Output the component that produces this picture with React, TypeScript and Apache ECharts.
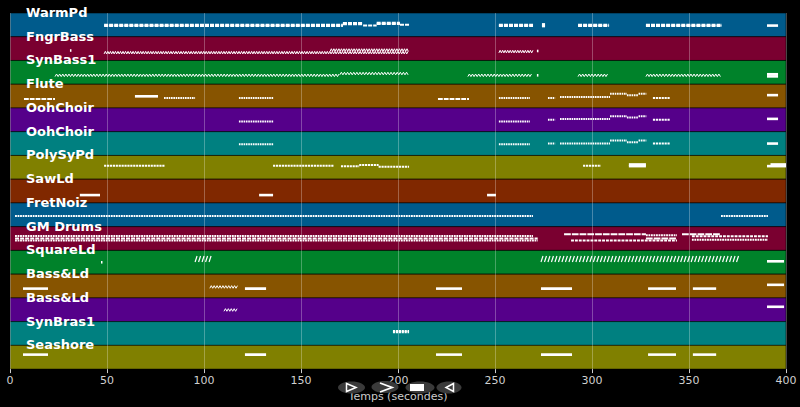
import React, { useEffect, useRef } from "react";
import * as echarts from "echarts";

// Track names, top to bottom
const TRACKS = ["WarmPd", "FngrBass", "SynBass1", "Flute", "OohChoir", "OohChoir", "PolySyPd", "SawLd", "FretNoiz", "GM Drums", "SquareLd", "Bass&Ld", "Bass&Ld", "SynBras1", "Seashore"];
const BAND_COLORS = ["#005b8c", "#7a0030", "#00822a", "#875400", "#55008a", "#008080", "#808000", "#802800"];
const X_MIN = 0;
const X_MAX = 400;
const X_STEP = 50;

// Note runs: [start s, end s, pitch within band (0..1), repeat step s (0 = held), contour (0 flat, 1 zigzag, 2 rising)]
const WARMPD = [[48.5, 171.6, 0.45, 2.6, 0], [48.5, 171.6, 0.5, 2.6, 0], [171.6, 182, 0.53, 2.6, 0], [171.6, 182, 0.58, 2.6, 0], [182, 189, 0.47, 2.6, 0], [189, 201, 0.54, 2.6, 0], [189, 201, 0.59, 2.6, 0], [201, 205.7, 0.5, 2.6, 0], [252, 269.6, 0.45, 2.6, 0], [252, 269.6, 0.5, 2.6, 0], [274.2, 275.8, 0.45, 0, 0], [274.2, 275.8, 0.52, 0, 0], [292.8, 308.8, 0.45, 2.6, 0], [292.8, 308.8, 0.5, 2.6, 0], [327.8, 367, 0.45, 2.6, 0], [327.8, 367, 0.5, 2.6, 0], [390.2, 395.9, 0.47, 0, 0]];
const FNGRBASS = [[30.9, 31.6, 0.42, 0, 0], [48.5, 205.7, 0.33, 1.3, 1], [165, 205.7, 0.44, 1.3, 1], [252, 270, 0.375, 1.3, 1], [271.6, 272.4, 0.4, 0, 0]];
const SYNBASS1 = [[23.2, 170, 0.375, 1.6, 1], [170, 205.7, 0.45, 1.6, 1], [236, 269.6, 0.375, 1.6, 1], [271.6, 272.3, 0.375, 0, 0], [292.8, 308.8, 0.375, 1.6, 1], [327.8, 367, 0.375, 1.6, 1], [390.2, 395.9, 0.33, 0, 0], [390.2, 395.9, 0.42, 0, 0]];
const FLUTE = [[7.2, 23.2, 0.375, 3, 0], [64.4, 76.3, 0.49, 0, 0], [79.4, 95.4, 0.42, 1.2, 0], [118, 136, 0.42, 1.2, 0], [220.6, 236.6, 0.375, 3, 0], [252, 268, 0.42, 1.2, 0], [277.3, 281, 0.42, 1.2, 0], [283.5, 309.3, 0.46, 1.2, 0], [309.3, 318, 0.6, 1.2, 0], [318, 324, 0.54, 1.2, 0], [324, 328, 0.6, 1.2, 0], [331.4, 340.2, 0.42, 1.5, 0], [390.2, 395.9, 0.54, 0, 0]];
const OOHCHOIR_A = [[118, 136, 0.43, 1.2, 0], [252, 268, 0.43, 1.2, 0], [277.3, 281, 0.5, 1.2, 0], [283.5, 309.3, 0.54, 1.2, 0], [309.3, 318, 0.65, 1.2, 0], [318, 324, 0.6, 1.2, 0], [324, 328, 0.65, 1.2, 0], [331.4, 340.2, 0.5, 1.5, 0], [390.2, 395.9, 0.54, 0, 0]];
const OOHCHOIR_B = [[118, 136, 0.47, 1.2, 0], [252, 268, 0.47, 1.2, 0], [277.3, 281, 0.5, 1.2, 0], [283.5, 309.3, 0.5, 1.2, 0], [309.3, 318, 0.625, 1.2, 0], [318, 324, 0.56, 1.2, 0], [324, 328, 0.625, 1.2, 0], [331.4, 340.2, 0.5, 1.5, 0], [390.2, 395.9, 0.5, 0, 0]];
const POLYSYPD = [[48.5, 79.9, 0.57, 1.5, 0], [135.6, 167, 0.57, 1.5, 0], [170.6, 180, 0.54, 1.5, 0], [180, 190, 0.6, 1.5, 0], [190, 205.7, 0.52, 1.5, 0], [295.4, 304.6, 0.57, 1.5, 0], [319, 327.8, 0.55, 0, 0], [319, 327.8, 0.62, 0, 0], [390.2, 400, 0.55, 0, 0], [392, 400, 0.62, 0, 0]];
const SAWLD = [[36, 46.4, 0.33, 0, 0], [128.4, 135.6, 0.33, 0, 0], [245.9, 250.5, 0.33, 0, 0]];
const FRETNOIZ = [[2.6, 269.6, 0.45, 1.3, 0], [366.5, 390.7, 0.45, 1.3, 0]];
const GMDRUMS = [[2.6, 269.6, 0.61, 1.3, 0], [2.6, 272, 0.42, 1.3, 0], [2.6, 272, 0.5, 2.6, 0], [285.6, 327.8, 0.68, 4, 0], [327.8, 343.8, 0.64, 1.3, 0], [327.8, 343.8, 0.5, 4, 0], [289.2, 343.8, 0.42, 2, 0], [346.4, 366, 0.68, 4, 0], [351.5, 390.7, 0.6, 2, 0], [351.5, 390.7, 0.45, 1.3, 0]];
const SQUARELD = [[46.9, 47.5, 0.5, 0, 0], [95.4, 103, 0.64, 1.8, 2], [273.7, 374.7, 0.64, 1.8, 2], [390.2, 399, 0.54, 0, 0]];
const BASSLD_A = [[6.7, 19.6, 0.39, 0, 0], [103, 118, 0.46, 1.5, 1], [121.1, 132, 0.39, 0, 0], [219.6, 233, 0.39, 0, 0], [273.7, 289.7, 0.39, 0, 0], [328.9, 343.3, 0.39, 0, 0], [352, 364, 0.39, 0, 0], [390.2, 399, 0.55, 0, 0]];
const BASSLD_B = [[110.3, 117.5, 0.49, 1.5, 1], [390.2, 399, 0.625, 0, 0]];
const SYNBRAS1 = [[197.4, 205.7, 0.55, 1.5, 0], [197.4, 205.7, 0.6, 1.5, 0]];
const SEASHORE = [[6.7, 19.6, 0.61, 0, 0], [121.1, 132, 0.61, 0, 0], [219.6, 233, 0.61, 0, 0], [273.7, 289.7, 0.61, 0, 0], [328.9, 343.3, 0.61, 0, 0], [352, 364, 0.61, 0, 0]];

const NOTES = [WARMPD, FNGRBASS, SYNBASS1, FLUTE, OOHCHOIR_A, OOHCHOIR_B, POLYSYPD, SAWLD, FRETNOIZ, GMDRUMS, SQUARELD, BASSLD_A, BASSLD_B, SYNBRAS1, SEASHORE];

export default function App() {
  const ref = useRef<HTMLDivElement>(null);
  useEffect(() => {
    if (!ref.current) return;
    const chart = echarts.init(ref.current, null, { renderer: "svg" });
    const n = TRACKS.length;
    const bandData = TRACKS.map((_, i) => [i]);
    const noteData: number[][] = [];
    NOTES.forEach((runs, i) => {
      runs.forEach((r) => {
        noteData.push([r[0], r[1], n - 1 - i + r[2], r[3], r[4]]);
      });
    });
    const font = "DejaVu Sans";
    chart.setOption({
      animation: false,
      backgroundColor: "#000000",
      grid: { left: 10, right: 14, top: 13, bottom: 34 },
      xAxis: {
        type: "value",
        min: X_MIN,
        max: X_MAX,
        interval: X_STEP,
        z: 2,
        name: "Temps (secondes)",
        nameLocation: "middle",
        nameGap: 17,
        nameTextStyle: { color: "#cccccc", fontSize: 11, fontFamily: font },
        axisLine: { show: false },
        axisTick: { show: true, length: 4, lineStyle: { color: "#cccccc" } },
        axisLabel: { color: "#d0d0d0", fontSize: 11, fontFamily: font, margin: 6 },
        splitLine: { show: true, lineStyle: { color: "rgba(255,255,255,0.28)", width: 1 } },
      },
      yAxis: { type: "value", min: 0, max: n, show: false, splitLine: { show: false } },
      series: [
        {
          type: "custom",
          z: 1,
          silent: true,
          data: bandData,
          encode: { x: -1, y: 0 },
          renderItem: (params: any, api: any) => {
            const i = api.value(0);
            const p1 = api.coord([X_MIN, n - i]);
            const p2 = api.coord([X_MAX, n - 1 - i]);
            return {
              type: "rect",
              shape: { x: p1[0], y: p1[1], width: p2[0] - p1[0], height: p2[1] - p1[1] },
              style: { fill: BAND_COLORS[i % BAND_COLORS.length], stroke: "rgba(0,0,0,0.55)", lineWidth: 1 },
            };
          },
        },
        {
          type: "custom",
          z: 3,
          silent: true,
          data: noteData,
          encode: { x: [0, 1], y: 2 },
          renderItem: (params: any, api: any) => {
            const s = api.value(0), e = api.value(1), y = api.value(2), step = api.value(3), contour = api.value(4);
            const p1 = api.coord([s, y]);
            const p2 = api.coord([e, y]);
            const x1 = p1[0], x2 = p2[0], yy = p1[1];
            if (!step) {
              return { type: "rect", shape: { x: x1, y: yy - 1.3, width: Math.max(x2 - x1, 1.5), height: 2.6 }, style: { fill: "#ffffff" } };
            }
            const sp = api.size([step, 0])[0];
            if (contour === 1) {
              const pts: number[][] = [];
              let k = 0;
              for (let x = x1; x <= x2; x += sp / 2) {
                pts.push([x, yy + (k % 2 === 0 ? 1.3 : -1.3)]);
                k++;
              }
              return { type: "polyline", shape: { points: pts }, style: { stroke: "#ffffff", lineWidth: 1, fill: null } };
            }
            if (contour === 2) {
              const children: any[] = [];
              for (let x = x1; x <= x2; x += sp) {
                children.push({ type: "line", shape: { x1: x, y1: yy + 3, x2: x + 2, y2: yy - 3 }, style: { stroke: "#ffffff", lineWidth: 1.2 } });
              }
              return { type: "group", children };
            }
            const gap = Math.min(1, Math.max(0.7, sp * 0.25));
            return {
              type: "line",
              shape: { x1, y1: yy, x2, y2: yy },
              style: { stroke: "#ffffff", lineWidth: 2, lineDash: [Math.max(1, sp - gap), gap] },
            };
          },
        },
        {
          type: "custom",
          z: 6,
          silent: true,
          data: bandData,
          encode: { x: -1, y: 0 },
          renderItem: (params: any, api: any) => {
            const i = api.value(0);
            const p = api.coord([X_MIN, n - i]);
            return {
              type: "text",
              x: params.coordSys.x + 16,
              y: p[1] - 0.5,
              style: { text: TRACKS[i], fill: "#ffffff", fontSize: 13, fontWeight: "bold", fontFamily: font, align: "left", verticalAlign: "middle" },
            };
          },
        },
      ],
      graphic: [
        { type: "ellipse", shape: { cx: 351.5, cy: 387.5, rx: 13.5, ry: 6 }, style: { fill: "#3a3a3a" }, z: 20 },
        { type: "ellipse", shape: { cx: 385, cy: 387, rx: 13.5, ry: 6 }, style: { fill: "#3a3a3a" }, z: 20 },
        { type: "ellipse", shape: { cx: 420, cy: 387.5, rx: 14.5, ry: 6 }, style: { fill: "#3a3a3a" }, z: 20 },
        { type: "ellipse", shape: { cx: 449, cy: 387.5, rx: 12.5, ry: 6 }, style: { fill: "#3a3a3a" }, z: 20 },
        { type: "polygon", shape: { points: [[346.5, 383.5], [356, 387.5], [346.5, 391.5]] }, style: { fill: null, stroke: "#ffffff", lineWidth: 1.5 }, z: 21 },
        { type: "polyline", shape: { points: [[380, 383], [392, 387.5], [380, 392]] }, style: { fill: null, stroke: "#ffffff", lineWidth: 1.8 }, z: 21 },
        { type: "rect", shape: { x: 410, y: 384, width: 14, height: 7 }, style: { fill: "#ffffff" }, z: 21 },
        { type: "polygon", shape: { points: [[453.5, 383.5], [446, 387.5], [453.5, 391.5]] }, style: { fill: null, stroke: "#ffffff", lineWidth: 1.5 }, z: 21 },
      ],
    });
    return () => chart.dispose();
  }, []);
  return <div ref={ref} style={{ position: "fixed", left: 0, top: 0, width: 800, height: 407 }} />;
}
